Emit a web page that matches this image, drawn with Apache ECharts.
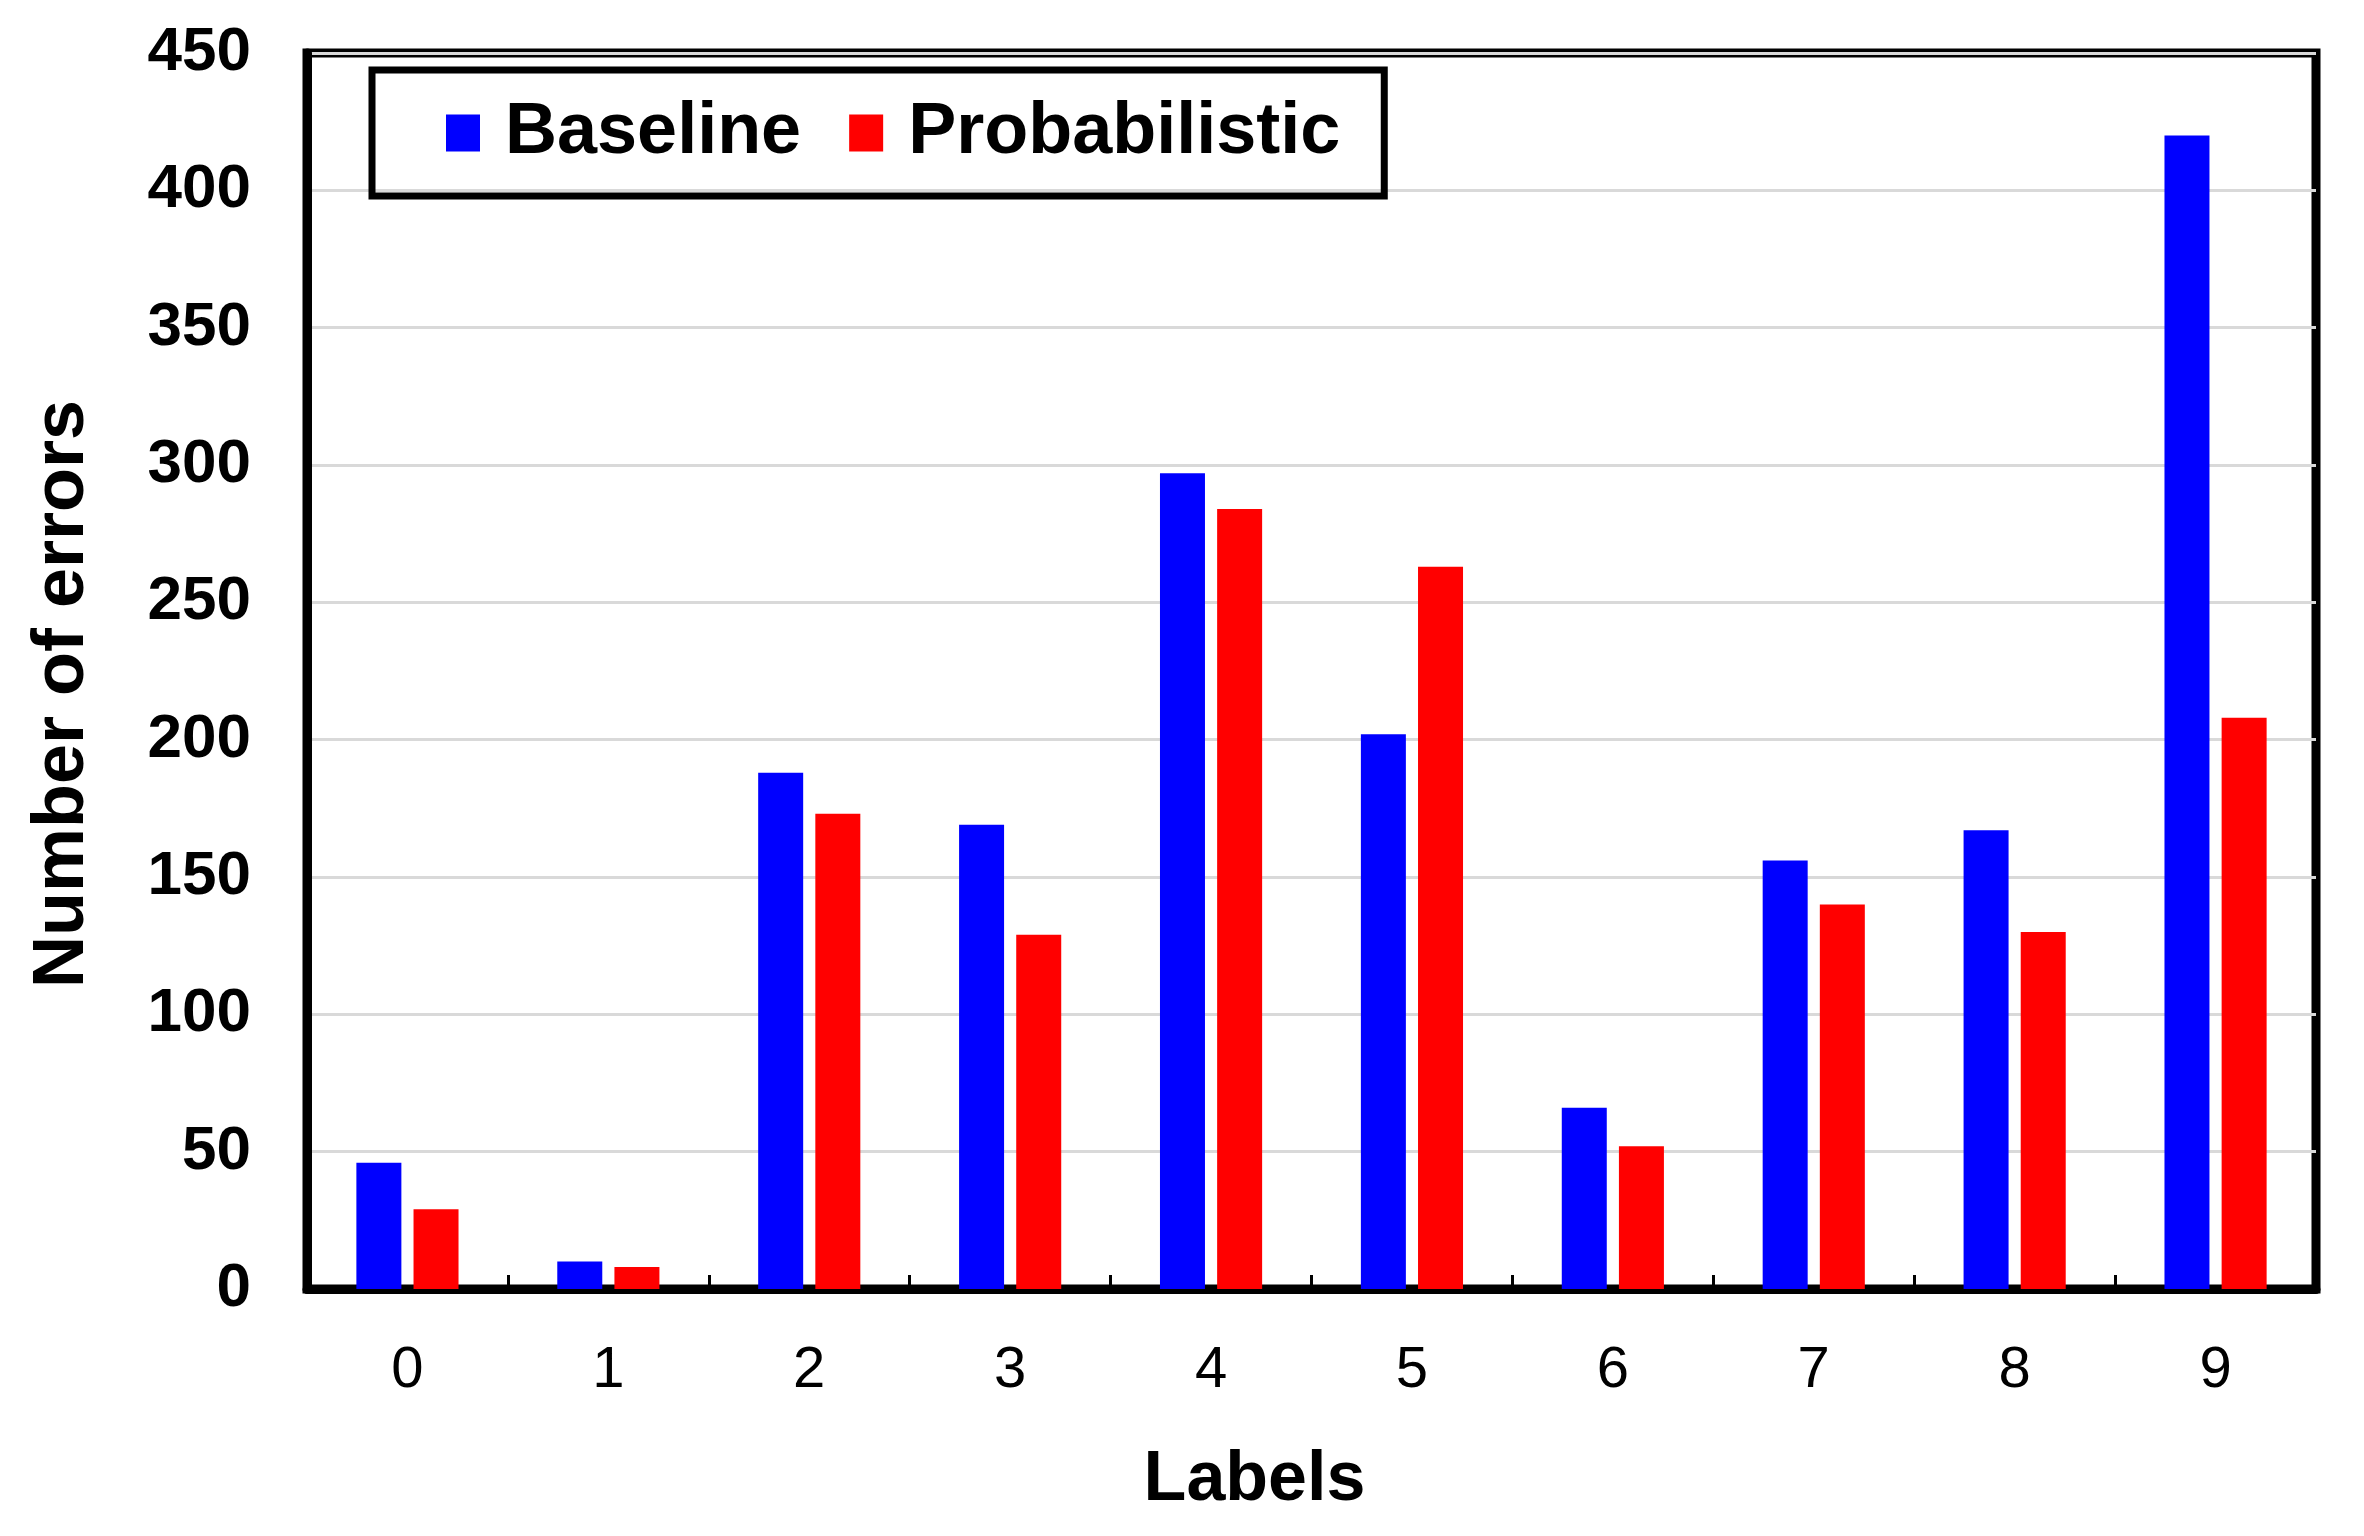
<!DOCTYPE html>
<html lang="en">
<head>
    <meta charset="UTF-8">
    <title>Number of errors per label</title>
    <script type="text/javascript" src="https://cdn.jsdelivr.net/npm/echarts@6/dist/echarts.min.js"></script>
    <style>
        html, body { margin: 0; padding: 0; background: #fff; }
    </style>
</head>
<body>

<!-- chart -->
<div id="myChart" style="width: 2364px;height: 1536px;"></div>

<script type="text/javascript">
    var labels = ['0', '1', '2', '3', '4', '5', '6', '7', '8', '9'];
    var baseline = [46, 10, 188, 169, 297, 202, 66, 156, 167, 420];      // Baseline
    var probabilistic = [29, 8, 173, 129, 284, 263, 52, 140, 130, 208]; // Probabilistic
    var yTicks = [0, 450, 50]; // min, max, interval

    var font = 'Liberation Sans, Arial, Helvetica, sans-serif';
    var myChart = echarts.init(document.getElementById('myChart'));

    myChart.setOption({
        animation: false,
        backgroundColor: '#fff',
        textStyle: { fontFamily: font },
        grid: {
            left: 307,
            right: 48,
            top: 53,
            bottom: 247,
            show: true,
            borderColor: '#000',
            borderWidth: 9,
            containLabel: false
        },
        legend: {
            left: 372,
            top: 70,
            data: ['Baseline', 'Probabilistic'],
            icon: 'rect',
            itemWidth: 34,
            itemHeight: 37,
            itemGap: 48,
            borderColor: '#000',
            borderWidth: 7,
            padding: [26, 44, 26, 74],
            textStyle: {
                fontFamily: font,
                fontSize: 72,
                fontWeight: 'bold',
                color: '#000',
                lineHeight: 74,
                padding: [0, 0, 0, 20]
            }
        },
        xAxis: {
            type: 'category',
            data: labels,
            name: 'Labels',
            nameLocation: 'middle',
            nameGap: 157,
            nameTextStyle: {
                fontFamily: font,
                fontSize: 70,
                fontWeight: 'bold',
                color: '#000',
                padding: [0, 114, 0, 0]
            },
            axisLine: { lineStyle: { color: '#000', width: 9 } },
            axisTick: {
                show: true,
                inside: true,
                length: 14,
                lineStyle: { color: '#000', width: 3 }
            },
            axisLabel: {
                fontFamily: font,
                fontSize: 58,
                color: '#000',
                margin: 53
            },
            splitLine: { show: false }
        },
        yAxis: {
            type: 'value',
            min: yTicks[0],
            max: yTicks[1],
            interval: yTicks[2],
            name: 'Number of errors',
            nameLocation: 'middle',
            nameGap: 208,
            nameTextStyle: {
                fontFamily: font,
                fontSize: 72,
                fontWeight: 'bold',
                color: '#000',
                padding: [0, 46, 0, 0]
            },
            axisLine: { show: true, lineStyle: { color: '#000', width: 9 } },
            axisTick: { show: false },
            axisLabel: {
                fontFamily: font,
                fontSize: 62,
                fontWeight: 'bold',
                color: '#000',
                margin: 56
            },
            splitLine: { show: true, lineStyle: { color: '#d9d9d9', width: 3 } }
        },
        series: [{
            name: 'Baseline',
            type: 'bar',
            data: baseline,
            barWidth: 45,
            barGap: '27%',
            itemStyle: { color: '#0000ff' }
        }, {
            name: 'Probabilistic',
            type: 'bar',
            data: probabilistic,
            barWidth: 45,
            barGap: '27%',
            itemStyle: { color: '#ff0000' }
        }]
    });
</script>
</body>
</html>
